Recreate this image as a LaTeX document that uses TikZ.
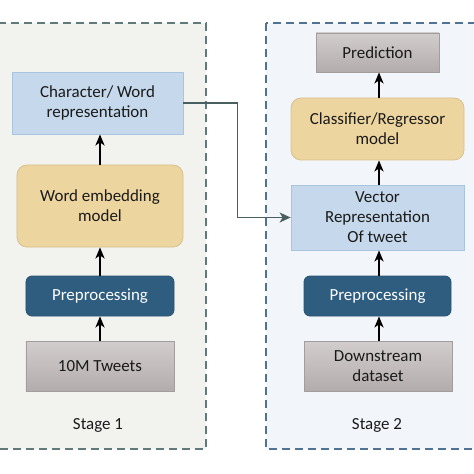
\documentclass[tikz,border=0pt]{standalone}
\usepackage{fontspec}
\setmainfont{Carlito}
\usetikzlibrary{arrows.meta}
\definecolor{lbfill}{HTML}{C6D9EC}
\definecolor{lbdraw}{HTML}{A9C4DE}
\definecolor{tanfill}{HTML}{EDD5A0}
\definecolor{tandraw}{HTML}{D8C18E}
\definecolor{dbfill}{HTML}{2F5D80}
\definecolor{dbdraw}{HTML}{2A5373}
\definecolor{gtop}{HTML}{D2CDCD}
\definecolor{gbot}{HTML}{B3ACAC}
\definecolor{gdraw}{HTML}{A39D9D}
\definecolor{c1fill}{HTML}{F2F2EF}
\definecolor{c1draw}{HTML}{5F7A78}
\definecolor{c2fill}{HTML}{F2F6FA}
\definecolor{c2draw}{HTML}{4F7390}
\definecolor{conncol}{HTML}{4A6060}
\definecolor{txt}{HTML}{1A1A1A}
\tikzset{
  base/.style={align=center, font=\fontsize{17}{20}\selectfont, text=txt, inner sep=0pt, line width=0.8bp},
  lbbox/.style={base, fill=lbfill, draw=lbdraw},
  tanbox/.style={base, fill=tanfill, draw=tandraw, rounded corners=10bp},
  dbbox/.style={base, fill=dbfill, draw=dbdraw, text=white, rounded corners=6bp},
  grbox/.style={base, top color=gtop, bottom color=gbot, draw=gdraw},
  container/.style={line width=1.5bp, dash pattern=on 8bp off 5bp},
  arr/.style={line width=2.2bp, -{Stealth[length=11bp,width=9bp,inset=3bp]}},
  conn/.style={line width=1.5bp, draw=conncol, -{Stealth[length=11bp,width=10bp,inset=3bp]}},
  lbl/.style={font=\fontsize{17}{20}\selectfont, text=txt}
}
\begin{document}
\begin{tikzpicture}[x=1bp,y=-1bp]
\useasboundingbox (0,0) rectangle (474,474);
\clip (0,0) rectangle (474,474);
\fill[white] (0,0) rectangle (474,474);
% containers
\draw[container, fill=c1fill, draw=c1draw] (-3,23) rectangle (206,449);
\draw[container, fill=c2fill, draw=c2draw] (266,23) rectangle (478,449);
% left nodes
\node[lbbox, minimum width=171bp, minimum height=62bp] (cw) at (97.5,103) {Character/ Word\\representation};
\node[tanbox, minimum width=166bp, minimum height=82bp] (we) at (100,206) {Word embedding\\model};
\node[dbbox, minimum width=148bp, minimum height=40bp] (pp1) at (100,296) {Preprocessing};
\node[grbox, minimum width=148bp, minimum height=50bp] (tw) at (100,366) {10M Tweets};
\node[lbl] (s1) at (98,425) {Stage 1};
% right nodes
\node[grbox, minimum width=123bp, minimum height=39bp] (pr) at (377.5,52.5) {Prediction};
\node[tanbox, minimum width=173bp, minimum height=62bp] (cl) at (377.5,129) {Classifier/Regressor\\model};
\node[lbbox, minimum width=173bp, minimum height=65bp] (vr) at (377.5,217.5) {Vector\\Representation\\Of tweet};
\node[dbbox, minimum width=147bp, minimum height=40bp] (pp2) at (377.5,296) {Preprocessing};
\node[grbox, minimum width=148bp, minimum height=50bp] (ds) at (378,366) {Downstream\\dataset};
\node[lbl] (s2) at (377,425) {Stage 2};
% arrows
\draw[arr] (tw.north) -- (pp1.south);
\draw[arr] (pp1.north) -- (we.south);
\draw[arr] (we.north -| 100,0) -- (cw.south -| 100,0);
\draw[arr] (ds.north -| 379,0) -- (pp2.south -| 379,0);
\draw[arr] (pp2.north -| 379,0) -- (vr.south -| 379,0);
\draw[arr] (vr.north -| 379,0) -- (cl.south -| 379,0);
\draw[arr] (cl.north -| 379,0) -- (pr.south -| 379,0);
% connector
\draw[conn] (cw.east) -- ++(54,0) |- (vr.west);
\end{tikzpicture}
\end{document}
